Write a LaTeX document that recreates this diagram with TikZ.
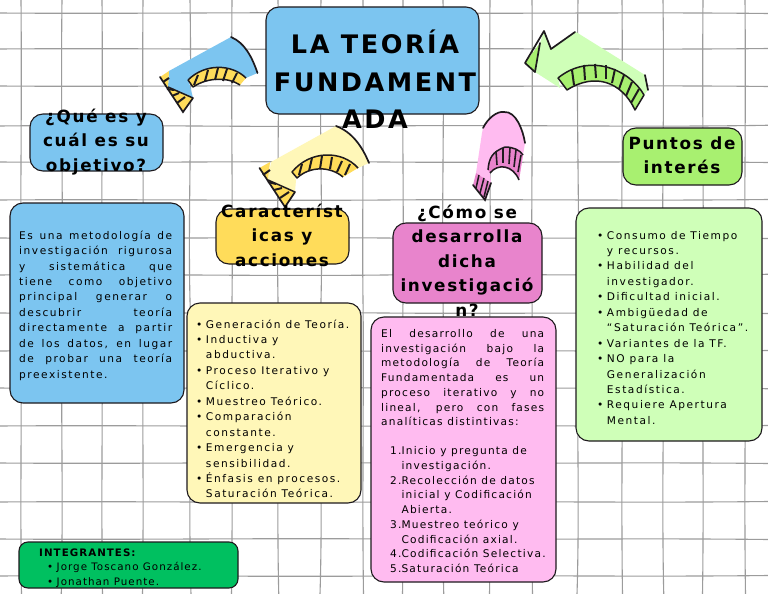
\documentclass[tikz,border=0pt]{standalone}
\usepackage{fontspec}
\setmainfont{DejaVu Sans}
\newfontfamily\bodyf[LetterSpace=14.5]{DejaVu Sans}
\newfontfamily\pinkf[LetterSpace=11.5]{DejaVu Sans}
\newfontfamily\intf[LetterSpace=10]{DejaVu Sans}
\newfontfamily\headf[LetterSpace=10]{DejaVu Sans}
\newfontfamily\titlef[LetterSpace=10]{DejaVu Sans}
\definecolor{cblue}{HTML}{7CC5F0}
\definecolor{cyel}{HTML}{FFDC5A}
\definecolor{cpale}{HTML}{FFF7B8}
\definecolor{cmag}{HTML}{E884CC}
\definecolor{cpink}{HTML}{FFBBF0}
\definecolor{cgrn}{HTML}{A8F070}
\definecolor{cpgrn}{HTML}{CFFFB8}
\definecolor{cdgrn}{HTML}{00C060}
\definecolor{cgrid}{HTML}{9C9C9C}
\definecolor{cink}{HTML}{1E1A1E}
\newcommand{\jl}[2]{\makebox[#1pt][s]{#2}}
\tikzset{
 x=1pt,y=-1pt,
 gridln/.style={cgrid,line width=1.1pt},
 boxs/.style={draw=cink,line width=1.1pt,rounded corners=13pt},
 headt/.style={font=\headf\bfseries\fontsize{16.8}{24.5}\selectfont,align=center,text=black,inner sep=0pt},
 bodyt/.style={font=\bodyf\fontsize{10.6}{15.45}\selectfont,anchor=north west,inner sep=0pt,text=black},
 bodytp/.style={font=\pinkf\fontsize{10.6}{14.75}\selectfont,anchor=north west,inner sep=0pt,text=black},
 bandb/.style={draw=cink,line width=1.5pt,line join=round},
 hatch/.style={draw=cink,line width=2pt},
 edgeb/.style={draw=cink,line width=1.7pt,line cap=round}
}
\begin{document}
\begin{tikzpicture}
\useasboundingbox (0,0) rectangle (768,594);
\fill[white] (0,0) rectangle (768,594);
% grid
\foreach \xx/\d in {21/1,62/-1.5,102/1,143/-1,190/2,232/-1,278/1.5,321/-2,363/1,403/-1,443/1.5,490/-1,532/1,578/-2,622/1,663/1.5,703/-1,745/1}{
 \draw[gridln] (\xx,0) .. controls (\xx+\d,120) and (\xx-\d,220) .. (\xx,300) .. controls (\xx+\d,380) and (\xx-\d,500) .. (\xx+\d*0.5,594);}
\foreach \yy/\d in {13/1,49/-1,86/1,126/-1.5,162/1,200/-1,238/1,275/-1.5,313/1,351/-1,388/1.5,426/-1,463/1,502/-1,539/1,576/-1}{
 \draw[gridln] (0,\yy) .. controls (130,\yy+\d) and (260,\yy-\d) .. (384,\yy) .. controls (500,\yy+\d) and (640,\yy-\d) .. (768,\yy+\d*0.5);}
% blue arrow
\fill[cblue] (169,71) -- (231,37) .. controls (245,43) and (252,57) .. (257.5,73) -- (246,78) .. controls (232,64) and (205,63) .. (188,80) -- (190,86) -- (193,98) -- (168,87) -- cycle;
\fill[cyel] (188,80) .. controls (205,63) and (232,64) .. (246,78) -- (240,85) .. controls (228,77) and (208,77) .. (193,87) -- cycle;
\draw[bandb] (188,80) .. controls (205,63) and (232,64) .. (246,78);
\draw[bandb] (240,85) .. controls (228,77) and (208,77) .. (193,87) -- (188,80);
\foreach \a/\b/\c/\d in {198/75/194/85,208/70/205/81,218/68/215/80,227/69/223/81,237/73/232/83}{\draw[hatch] (\a,\b) -- (\c,\d);}
\fill[cyel] (160,77) -- (169,71) -- (168,87) -- (193,98) -- (183,112) -- cycle;
\draw[edgeb] (160,77) -- (183,112) -- (193,98);
\draw[bandb] (168,87) -- (193,98);
\foreach \a/\b/\c/\d in {163/82/169/78,167/89/174/90,172/96/179/93,177/103/185/97}{\draw[hatch] (\a,\b) -- (\c,\d);}
\draw[edgeb] (231,37) .. controls (245,43) and (252,57) .. (257.5,73);
% yellow arrow
\fill[cpale] (271,162) -- (336,126) .. controls (352,132) and (362,146) .. (369,163) -- (358,168) .. controls (342,150) and (310,150) .. (292,172) -- (296,180) -- (295,192) -- (268,180) -- cycle;
\fill[cyel] (292,172) .. controls (310,150) and (342,150) .. (358,168) -- (343,177) .. controls (330,166) and (310,166) .. (297,178) -- cycle;
\draw[bandb] (292,172) .. controls (310,150) and (342,150) .. (358,168);
\draw[bandb] (343,177) .. controls (330,166) and (310,166) .. (297,178) -- (292,172);
\foreach \a/\b/\c/\d in {302/164/299/175,312/158/309/171,322/156/320/169,332/157/330/169,342/161/337/172,350/164/345/175}{\draw[hatch] (\a,\b) -- (\c,\d);}
\fill[cyel] (259.5,168) -- (270,162) -- (268,180) -- (295,192) -- (285,207) -- cycle;
\draw[edgeb] (259.5,168) -- (285,207) -- (295,192);
\draw[bandb] (268,180) -- (295,192);
\foreach \a/\b/\c/\d in {263/175/270/170,268/182/276/184,274/190/282/188,280/198/289/192}{\draw[hatch] (\a,\b) -- (\c,\d);}
\draw[edgeb] (336,126) .. controls (352,132) and (362,146) .. (369,163);
% pink arrow
\fill[cpink] (483,128) .. controls (488,118) and (497,111) .. (504,112) .. controls (516,111) and (523,130) .. (525,143) -- (523,155) -- (519,180) .. controls (510,165) and (497,165) .. (490,173) -- (491,183) -- (476,173) -- (482,133) -- cycle;
\fill[cmag] (488,170) .. controls (489,158) and (492,152) .. (505,147) .. controls (513,147) and (520,150) .. (523,155) -- (519,180) .. controls (513,165) and (498,163) .. (490,173) -- cycle;
\draw[bandb] (488,170) .. controls (489,158) and (492,152) .. (505,147) .. controls (513,147) and (520,150) .. (523,155);
\draw[bandb] (519,180) .. controls (513,165) and (498,163) .. (490,173);
\foreach \a/\b/\c/\d in {496/151/497/165,503/148/503/163,510/148/509/164,516/150/514/167,521/155/518/172}{\draw[draw=cink,line width=1.6pt] (\a,\b) -- (\c,\d);}
\fill[cmag] (476,173) -- (491,183) -- (485,200) -- (473,185) -- cycle;
\draw[edgeb] (473,185) -- (485,200) -- (491,183);
\foreach \a/\b/\c/\d in {479/175/476/188,484/178/480/193,488/181/484/197}{\draw[draw=cink,line width=1.5pt] (\a,\b) -- (\c,\d);}
\draw[edgeb] (483,128) .. controls (488,118) and (497,111) .. (504,112) .. controls (516,111) and (523,130) .. (525,143);
% green arrow
\fill[cpgrn] (576,32) -- (645,75) -- (648,90) -- (644,95) .. controls (630,70) and (590,52) .. (558,78) -- (560,88) -- (535,72) -- (540,43) -- (544,31) -- (551,49) -- cycle;
\fill[cgrn] (558,78) .. controls (590,52) and (630,70) .. (644,95) -- (635,110) .. controls (622,82) and (595,72) .. (567,90) -- cycle;
\draw[bandb] (558,78) .. controls (590,52) and (630,70) .. (644,95) -- (635,110) .. controls (622,82) and (595,72) .. (567,90) -- cycle;
\foreach \a/\b/\c/\d in {572/70/574/85,584/65/585/80,595/64/596/78,606/65/606/79,615/69/612/83,624/75/619/89,632/82/626/96,639/89/631/103}{\draw[hatch] (\a,\b) -- (\c,\d);}
\fill[cgrn] (525,63) -- (540,43) -- (535,72) -- cycle;
\draw[edgeb,line join=round] (535,72) -- (525,63) -- (544,31) -- (551,49) -- (575,32);
\draw[edgeb] (540,43) -- (535,72);
\draw[edgeb] (645,75) -- (648,90);
% boxes
\draw[boxs,fill=cblue] (266,7) rectangle (479,114);
\node[font=\titlef\bfseries\fontsize{25.5}{37.5}\selectfont,align=center,text=black,inner sep=0pt] (title) at (375,79.5) {LA TEORÍA\\FUNDAMENT\\ADA};
\draw[boxs,fill=cblue] (30,114) rectangle (163,171);
\node[headt] (q1) at (96,142) {¿Qué es y\\cuál es su\\objetivo?};
\draw[boxs,fill=cyel] (216,209) rectangle (349,264);
\node[headt] (q2) at (282,235) {Característ\\icas y\\acciones};
\draw[boxs,fill=cmag] (393,223) rectangle (542,303);
\node[headt] (q3) at (467,260.5) {¿Cómo se\\desarrolla\\dicha\\investigació\\n?};
\draw[boxs,fill=cgrn] (623,128) rectangle (742,185);
\node[headt] (q4) at (682,155) {Puntos de\\interés};
\draw[boxs,fill=cblue] (10,203) rectangle (184,403);
\node[bodyt,align=left] (t1) at (19,230.5) {\jl{153}{Es una metodología de}\\\jl{153}{investigación rigurosa}\\\jl{153}{y sistemática que}\\\jl{153}{tiene como objetivo}\\\jl{153}{principal generar o}\\\jl{153}{descubrir teoría}\\\jl{153}{directamente a partir}\\\jl{153}{de los datos, en lugar}\\\jl{153}{de probar una teoría}\\preexistente.};
\draw[boxs,fill=cpale] (187,303) rectangle (361,503);
\node[bodyt] (t2) at (196,317) {\begin{tabular}{@{}l@{\,\,}l@{}}
•&Generación de Teoría.\\
•&Inductiva y\\&abductiva.\\
•&Proceso Iterativo y\\&Cíclico.\\
•&Muestreo Teórico.\\
•&Comparación\\&constante.\\
•&Emergencia y\\&sensibilidad.\\
•&Énfasis en procesos.\\
&Saturación Teórica.
\end{tabular}};
\draw[boxs,fill=cpink] (371,317) rectangle (556,582);
\node[bodytp,align=left] (t3) at (381,329) {\jl{163}{El desarrollo de una}\\\jl{163}{investigación bajo la}\\\jl{163}{metodología de Teoría}\\\jl{163}{Fundamentada es un}\\\jl{163}{proceso iterativo y no}\\\jl{163}{lineal, pero con fases}\\analíticas distintivas:};
\node[bodytp] (t3b) at (390,444) {\begin{tabular}{@{}l@{}l@{}}
1.&Inicio y pregunta de\\&investigación.\\
2.&Recolección de datos\\&inicial y Codificación\\&Abierta.\\
3.&Muestreo teórico y\\&Codificación axial.\\
4.&Codificación Selectiva.\\
5.&Saturación Teórica
\end{tabular}};
\draw[boxs,fill=cpgrn] (576,208) rectangle (762,441);
\node[bodyt] (t4) at (597,228) {\begin{tabular}{@{}l@{\,\,}l@{}}
•&Consumo de Tiempo\\&y recursos.\\
•&Habilidad del\\&investigador.\\
•&Dificultad inicial.\\
•&Ambigüedad de\\&“Saturación Teórica”.\\
•&Variantes de la TF.\\
•&NO para la\\&Generalización\\&Estadística.\\
•&Requiere Apertura\\&Mental.
\end{tabular}};
\draw[boxs,fill=cdgrn,rounded corners=9pt] (19,542) rectangle (238,588);
\node[bodyt,font=\intf\bfseries\fontsize{10.3}{14}\selectfont] (t5a) at (39,549) {INTEGRANTES:};
\node[bodyt,font=\intf\fontsize{10.3}{14.3}\selectfont] (t5) at (47,560.5) {\begin{tabular}{@{}l@{\,\,}l@{}}
•&Jorge Toscano González.\\
•&Jonathan Puente.
\end{tabular}};
\end{tikzpicture}
\end{document}
